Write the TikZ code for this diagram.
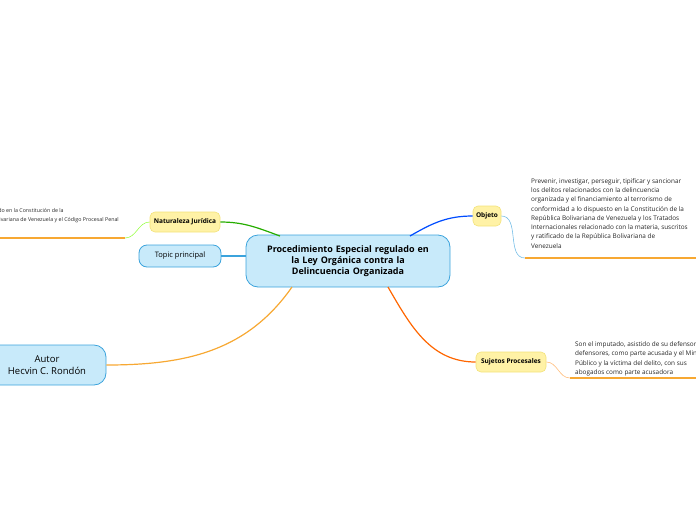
\documentclass[tikz,border=0pt]{standalone}
\usepackage{fontspec}
\setmainfont{Open Sans}
\begin{document}
\begin{tikzpicture}[x=1pt,y=-1pt,
 main/.style={draw=cBorder,fill=cFill,rounded corners=12pt,line width=0.8pt,align=center,font=\fontsize{9}{11}\selectfont},
 sub/.style={draw=yBorder,fill=yFill,rounded corners=5pt,line width=0.6pt,font=\fontsize{6.5}{8}\selectfont\bfseries,inner sep=2pt},
 note/.style={align=left,font=\fontsize{6.4}{9.3}\selectfont,text=black!85,anchor=north west,inner sep=0pt}]
\definecolor{cBorder}{HTML}{3BA3DC}\definecolor{cFill}{HTML}{C8EAFA}
\definecolor{yBorder}{HTML}{F3E27A}\definecolor{yFill}{HTML}{FFF2A6}
\definecolor{oLine}{HTML}{F7A832}
\useasboundingbox (0,0) rectangle (696,520);
\clip (0,0) rectangle (696,520);
\node[main,minimum width=204pt,minimum height=52pt,text width=180pt] (c) at (348,261) {\textbf{Procedimiento Especial regulado en\\la Ley Orgánica contra la\\Delincuencia Organizada}};
\node[main,rounded corners=8pt,minimum width=82pt,minimum height=22pt,font=\fontsize{7.5}{8}\selectfont] (tp) at (180,256) {Topic principal};
\node[sub,minimum width=70pt,minimum height=20pt] (nj) at (185,222) {Naturaleza Jurídica};
\node[main,minimum width=118pt,minimum height=40pt,font=\fontsize{9.5}{11.5}\selectfont] (au) at (47,365) {Autor\\Hecvin C. Rondón};
\node[sub,minimum width=28pt,minimum height=20pt] (ob) at (487,216) {Objeto};
\node[sub,minimum width=70pt,minimum height=20pt] (sp) at (511,362) {Sujetos Procesales};
\draw[cBorder,line width=1.2pt] (tp.east) -- (c.west |- tp.east);
\draw[green!60!black!80!lime,line width=1.2pt] (nj.east) to[out=0,in=160] (280,236);
\draw[oLine,line width=1.2pt] (au.east) to[out=0,in=235] (292,287);
\draw[blue!70!cyan,line width=1.2pt] (410,236) to[out=30,in=180] (ob.west);
\draw[orange!80!red,line width=1.2pt] (388,287) to[out=-60,in=180] (sp.west);
% notes
\coordinate (nl) at (125,238);
\draw[lime!60!green!70,line width=0.6pt] (nj.west) to[out=180,in=0] (nl);
\draw[oLine,line width=1.2pt] (nl) -- (0,238);
\node[note,anchor=north east,font=\fontsize{5.3}{9}\selectfont] (nt) at (119,208) {Delito tipificado en la Constitución de la\\República Bolivariana de Venezuela y el Código Procesal Penal};
\coordinate (ol) at (525,258);
\draw[cBorder!70,line width=0.6pt] (ob.east) to[out=0,in=180] (ol);
\draw[oLine,line width=1.2pt] (ol) -- (700,258);
\node[note] (ot) at (531,178) {Prevenir, investigar, perseguir, tipificar y sancionar\\los delitos relacionados con la delincuencia\\organizada y el financiamiento al terrorismo de\\conformidad a lo dispuesto en la Constitución de la\\República Bolivariana de Venezuela y los Tratados\\Internacionales relacionado con la materia, suscritos\\y ratificado de la República Bolivariana de\\Venezuela};
\coordinate (sl) at (570,378);
\draw[orange!50,line width=0.6pt] (sp.east) to[out=0,in=180] (sl);
\draw[oLine,line width=1.2pt] (sl) -- (700,378);
\node[note,font=\fontsize{6.4}{9.6}\selectfont] (st) at (575,341) {Son el imputado, asistido de su defensor o\\defensores, como parte acusada y el Ministerio\\Público y la víctima del delito, con sus\\abogados como parte acusadora};
\end{tikzpicture}
\end{document}
